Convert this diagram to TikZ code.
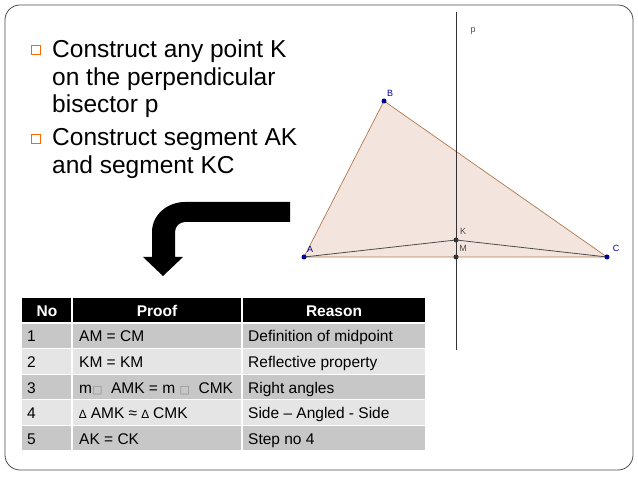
\documentclass[tikz,border=0pt]{standalone}
\usepackage{fontspec}
\setmainfont{Liberation Sans}
\newfontfamily\dvs{DejaVu Sans}
\definecolor{trifill}{HTML}{F3E5DD}
\definecolor{triedge}{HTML}{B07850}
\begin{document}
\begin{tikzpicture}[x=1pt,y=-1pt,
  bul/.style={draw=orange!80!red,line width=1.4pt,minimum size=8.5pt,inner sep=0pt},
  big/.style={font=\fontsize{24.5}{27.5}\selectfont,anchor=base west,inner sep=0pt},
  pt/.style={circle,fill=blue!60!black,inner sep=0pt,minimum size=5pt},
  ptd/.style={circle,fill=black!80,inner sep=0pt,minimum size=5pt},
  lab/.style={font=\fontsize{9}{9}\selectfont,text=blue!60!black,inner sep=1pt},
  cell/.style={font=\fontsize{15.5}{17}\selectfont,anchor=base west,inner sep=0pt},
  hd/.style={font=\fontsize{15.5}{17}\selectfont\bfseries,text=white,anchor=base,inner sep=0pt}]
\useasboundingbox (0,0) rectangle (638,478);
\draw[black!70,line width=0.8pt,rounded corners=15] (5,5) rectangle (633,470);
% bullets
\node[bul] (b1) at (36,50) {};
\node[big] (t1a) at (52,58) {Construct any point K};
\node[big] (t1b) at (52,85.5) {on the perpendicular};
\node[big] (t1c) at (52,113) {bisector p};
\node[bul] (b2) at (36,139) {};
\node[big] (t2a) at (52,146) {Construct segment AK};
\node[big] (t2b) at (52,173.5) {and segment KC};
% arrow
\fill[black] (290,202) -- (290,222) -- (185,222) to[out=180,in=90] (175,232) -- (175,257) -- (183,257) -- (163,276) -- (143,257) -- (152,257) -- (152,232) to[out=90,in=180] (185,202) -- cycle;
% geometry
\coordinate (A) at (304,257);
\coordinate (B) at (384,101);
\coordinate (C) at (607,257);
\coordinate (K) at (456,240);
\coordinate (M) at (456,257);
\fill[trifill] (A) -- (B) -- (C) -- cycle;
\draw[triedge,line width=0.7pt] (A) -- (B) -- (C) -- cycle;
\coordinate (p1) at (456,12);
\coordinate (p2) at (456,350);
\draw[black!80,line width=0.6pt] (p1) -- (p2);
\draw[black!70,line width=0.8pt] (A) -- (K) -- (C);
\node[pt] (nA) at (A) {};
\node[pt] (nB) at (B) {};
\node[pt] (nC) at (C) {};
\node[ptd] (nK) at (K) {};
\node[ptd] (nM) at (M) {};
\node[lab] (lA) at (310,249) {A};
\node[lab] (lB) at (390,93) {B};
\node[lab] (lC) at (616,248) {C};
\node[lab,text=black!70] (lK) at (463,231) {K};
\node[lab,text=black!70] (lM) at (463,248) {M};
\node[lab,text=black!70] (lp) at (473,31) {p};
% table
\fill[black] (22,298) rectangle (425,323);
\foreach \i/\c in {0/black!22,1/black!10,2/black!22,3/black!10,4/black!22}{
  \fill[\c] (22,{323+\i*25.6}) rectangle (425,{323+(\i+1)*25.6});
}
\foreach \i in {0,...,5}{\draw[white,line width=1.2pt] (22,{323+\i*25.6}) -- (425,{323+\i*25.6});}
\draw[white,line width=1.2pt] (72,298) -- (72,451) (242,298) -- (242,451);
\node[hd] (h1) at (47,317) {No};
\node[hd] (h2) at (157,317) {Proof};
\node[hd] (h3) at (334,317) {Reason};
\node[cell] (r1a) at (27,342) {1};
\node[cell] (r1b) at (79,342) {AM = CM};
\node[cell] (r1c) at (248,342) {Definition of midpoint};
\node[cell] (r2a) at (27,368) {2};
\node[cell] (r2b) at (79,368) {KM = KM};
\node[cell] (r2c) at (248,368) {Reflective property};
\node[cell] (r3a) at (27,394) {3};
\node[cell] (r3b) at (79,394) {m{\dvs\fontsize{11}{12}\selectfont\textcolor{black!45}{□}}\ \ AMK = m {\dvs\fontsize{11}{12}\selectfont\textcolor{black!45}{□}}\ \ CMK};
\node[cell] (r3c) at (248,394) {Right angles};
\node[cell] (r4a) at (27,419) {4};
\node[cell] (r4b) at (79,419) {{\fontsize{12}{12}\selectfont ∆} AMK ≈ {\fontsize{12}{12}\selectfont ∆} CMK};
\node[cell] (r4c) at (248,419) {Side – Angled - Side};
\node[cell] (r5a) at (27,445) {5};
\node[cell] (r5b) at (79,445) {AK = CK};
\node[cell] (r5c) at (248,445) {Step no 4};
\end{tikzpicture}
\end{document}
